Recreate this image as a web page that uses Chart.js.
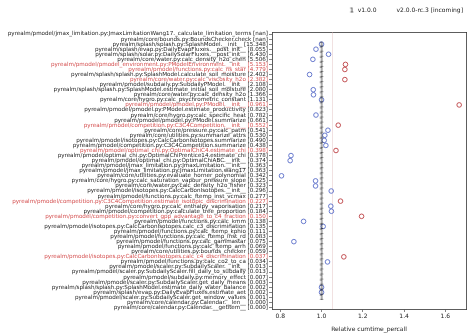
<!DOCTYPE html>
<html>
<head>
<meta charset="utf-8">
<script src="https://cdn.jsdelivr.net/npm/chart.js@4/dist/chart.umd.min.js"></script>
<style>
  html, body { margin: 0; padding: 0; background: #fff; }
  #wrap { width: 474px; height: 335px; }
</style>
</head>
<body>
<div id="wrap"><canvas id="chart" width="474" height="335"></canvas></div>
<script>
// ============================================
// DATA
// ============================================

const FUNCTIONS = [
    "pyrealm/pmodel/jmax_limitation.py:JmaxLimitationWang17._calculate_limitation_terms",
    "pyrealm/core/bounds.py:BoundsChecker.check",
    "pyrealm/splash/splash.py:SplashModel.__init__",
    "pyrealm/splash/evap.py:DailyEvapFluxes.__post_init__",
    "pyrealm/splash/solar.py:DailySolarFluxes.__post_init__",
    "pyrealm/core/water.py:calc_density_h2o_chen",
    "pyrealm/pmodel/pmodel_environment.py:PModelEnvironment.__init__",
    "pyrealm/pmodel/functions.py:calc_ns_star",
    "pyrealm/splash/splash.py:SplashModel.calculate_soil_moisture",
    "pyrealm/core/water.py:calc_viscosity_h2o",
    "pyrealm/pmodel/subdaily.py:SubdailyPModel.__init__",
    "pyrealm/splash/splash.py:SplashModel.estimate_initial_soil_moisture",
    "pyrealm/core/water.py:calc_density_h2o",
    "pyrealm/core/hygro.py:calc_psychrometric_constant",
    "pyrealm/pmodel/pmodel.py:PModel.__init__",
    "pyrealm/pmodel/pmodel.py:PModel.estimate_productivity",
    "pyrealm/core/hygro.py:calc_specific_heat",
    "pyrealm/pmodel/pmodel.py:PModel.summarize",
    "pyrealm/pmodel/competition.py:C3C4Competition.__init__",
    "pyrealm/core/pressure.py:calc_patm",
    "pyrealm/core/utilities.py:summarize_attrs",
    "pyrealm/pmodel/isotopes.py:CalcCarbonIsotopes.summarize",
    "pyrealm/pmodel/competition.py:C3C4Competition.summarize",
    "pyrealm/pmodel/optimal_chi.py:OptimalChiC4.estimate_chi",
    "pyrealm/pmodel/optimal_chi.py:OptimalChiPrentice14.estimate_chi",
    "pyrealm/pmodel/optimal_chi.py:OptimalChiABC.__init__",
    "pyrealm/pmodel/jmax_limitation.py:JmaxLimitation.__init__",
    "pyrealm/pmodel/jmax_limitation.py:JmaxLimitation.wang17",
    "pyrealm/core/utilities.py:evaluate_horner_polynomial",
    "pyrealm/core/hygro.py:calc_saturation_vapour_pressure_slope",
    "pyrealm/core/water.py:calc_density_h2o_fisher",
    "pyrealm/pmodel/isotopes.py:CalcCarbonIsotopes.__init__",
    "pyrealm/pmodel/functions.py:calc_ftemp_inst_vcmax",
    "pyrealm/pmodel/competition.py:C3C4Competition.estimate_isotopic_discrimination",
    "pyrealm/core/hygro.py:calc_enthalpy_vaporisation",
    "pyrealm/pmodel/competition.py:calculate_tree_proportion",
    "pyrealm/pmodel/competition.py:convert_gpp_advantage_to_c4_fraction",
    "pyrealm/pmodel/functions.py:calc_kmm",
    "pyrealm/pmodel/isotopes.py:CalcCarbonIsotopes.calc_c3_discrimination",
    "pyrealm/pmodel/functions.py:calc_ftemp_kphio",
    "pyrealm/pmodel/functions.py:calc_ftemp_inst_rd",
    "pyrealm/pmodel/functions.py:calc_gammastar",
    "pyrealm/pmodel/functions.py:calc_ftemp_arrh",
    "pyrealm/core/utilities.py:bounds_checker",
    "pyrealm/pmodel/isotopes.py:CalcCarbonIsotopes.calc_c4_discrimination",
    "pyrealm/pmodel/functions.py:calc_co2_to_ca",
    "pyrealm/pmodel/scaler.py:SubdailyScaler.__init__",
    "pyrealm/pmodel/scaler.py:SubdailyScaler.fill_daily_to_subdaily",
    "pyrealm/pmodel/subdaily.py:memory_effect",
    "pyrealm/pmodel/scaler.py:SubdailyScaler.get_daily_means",
    "pyrealm/splash/splash.py:SplashModel.estimate_daily_water_balance",
    "pyrealm/splash/evap.py:DailyEvapFluxes.estimate_aet",
    "pyrealm/pmodel/scaler.py:SubdailyScaler.get_window_values",
    "pyrealm/core/calendar.py:Calendar.__len__",
    "pyrealm/core/calendar.py:Calendar.__getitem__",
];

// cumtime_percall shown in brackets next to each function
const CUMTIME = [
    "nan", "nan", "15.348", "8.055", "6.430", "5.506", "5.153", "4.779",
    "2.402", "2.382", "2.108", "2.080", "1.366", "1.131", "0.961", "0.823",
    "0.782", "0.661", "0.552", "0.541", "0.530", "0.490", "0.438", "0.398",
    "0.378", "0.374", "0.363", "0.363", "0.342", "0.325", "0.323", "0.296",
    "0.277", "0.227", "0.217", "0.184", "0.150", "0.138", "0.135", "0.111",
    "0.083", "0.075", "0.069", "0.059", "0.037", "0.034", "0.013", "0.013",
    "0.007", "0.003", "0.002", "0.002", "0.001", "0.000", "0.000",
];

// reference version (always 1 where defined)
const BASELINE = [
    null, null, 1, 1, 1, 1, 1, 1, 1, 1, 1, 1, 1, 1, 1, 1, 1, 1, 1, 1,
    1, 1, 1, 1, 1, 1, 1, 1, 1, 1, 1, 1, 1, 1, 1, 1, 1, 1, 1, 1,
    1, 1, 1, 1, 1, 1, 1, 1, 1, 1, 1, 1, 1, null, null,
];

// incoming version, relative to baseline
const INCOMING = [
    null, null, 1.000, 0.973, 1.034, 0.958, 1.116, 1.113, 0.942, 1.113,
    null, 0.960, 0.961, 1.000, 1.667, null, 0.973, null, 1.081, 1.031,
    1.016, 1.013, 1.021, 1.070, 0.852, 0.848, null, null, 0.806, 0.971,
    0.971, 1.047, null, 1.092, 1.045, 1.048, 1.194, 0.913, 1.008, null,
    null, 0.866, null, null, 1.108, 1.029, null, null, null, null,
    1.000, 1.000, null, null, null,
];

const SERIES_NAMES = ["v1.0.0", "v2.0.0-rc.3 [incoming]"];
const X_TICKS = [0.8, 1.0, 1.2, 1.4, 1.6];
const THRESHOLD = 1.05;

// ============================================
// STYLE
// ============================================

const FONT = "DejaVu Sans";
const BLUE = "rgb(88, 108, 200)";
const RED = "rgb(188, 62, 66)";
const TEXT_RED = "rgb(212, 78, 78)";
const INK = "#1a1a1a";

const isSlower = (i) => INCOMING[i] != null && INCOMING[i] > THRESHOLD;

const toPoints = (values) =>
    values
        .map((v, i) => ({ x: v, y: i }))
        .filter((p) => p.x != null);

// "1" text marker used for the baseline series
const oneMarker = document.createElement("canvas");
oneMarker.width = 6;
oneMarker.height = 7;
(() => {
    const c = oneMarker.getContext("2d");
    c.fillStyle = "#000";
    c.font = `7px ${FONT}`;
    c.textAlign = "center";
    c.textBaseline = "alphabetic";
    c.fillText("1", 3, 6);
})();

// ============================================
// PLUGINS
// ============================================

const thresholdLine = {
    id: "thresholdLine",
    beforeDatasetsDraw(chart) {
        const { ctx, chartArea, scales } = chart;
        const x = Math.round(scales.x.getPixelForValue(THRESHOLD)) + 0.5;
        ctx.save();
        ctx.strokeStyle = "rgba(220, 180, 180, 0.4)";
        ctx.lineWidth = 1;
        ctx.beginPath();
        ctx.moveTo(x, chartArea.top);
        ctx.lineTo(x, chartArea.bottom);
        ctx.stroke();
        ctx.restore();
    },
};

// ============================================
// CHART
// ============================================

Chart.defaults.font.family = FONT;
Chart.defaults.color = INK;

const spine = { display: true, color: "#333", width: 0.8 };

new Chart(document.getElementById("chart"), {
    type: "scatter",
    data: {
        datasets: [
            {
                label: SERIES_NAMES[0],
                data: toPoints(BASELINE),
                pointStyle: oneMarker,
                pointRadius: 3,
            },
            {
                label: SERIES_NAMES[1],
                data: toPoints(INCOMING),
                pointStyle: "circle",
                pointRadius: 2.3,
                pointBorderWidth: 0.9,
                pointBackgroundColor: "rgba(0,0,0,0)",
                pointBorderColor: (ctx) =>
                    ctx.raw && ctx.raw.x > THRESHOLD ? RED : BLUE,
            },
        ],
    },
    options: {
        responsive: false,
        animation: false,
        events: [],
        layout: { padding: { left: 2, right: 0, top: -4, bottom: 2 } },
        plugins: {
            tooltip: { enabled: false },
            legend: {
                position: "top",
                align: "end",
                labels: {
                    usePointStyle: true,
                    padding: 11,
                    font: { size: 6 },
                    color: INK,
                    generateLabels(chart) {
                        const items =
                            Chart.defaults.plugins.legend.labels.generateLabels(chart);
                        items[1].fillStyle = "rgba(0,0,0,0)";
                        items[1].strokeStyle = "rgba(0,0,0,0)";
                        return items;
                    },
                },
            },
        },
        scales: {
            x: {
                type: "linear",
                position: "bottom",
                min: 0.76,
                max: 1.7,
                afterBuildTicks: (scale) => {
                    scale.ticks = X_TICKS.map((v) => ({ value: v }));
                },
                afterFit: (scale) => {
                    scale.height = 24;
                },
                ticks: {
                    font: { size: 6 },
                    color: INK,
                    padding: 1,
                    callback: (v) => v.toFixed(1),
                },
                grid: {
                    drawOnChartArea: false,
                    tickLength: 3,
                    color: "#333",
                    lineWidth: 0.6,
                },
                border: spine,
                title: {
                    display: true,
                    text: "Relative cumtime_percall",
                    font: { size: 6 },
                    color: INK,
                    padding: { top: 1, bottom: 0 },
                },
            },
            xTop: {
                type: "linear",
                position: "top",
                min: 0.76,
                max: 1.7,
                ticks: { display: false },
                grid: { display: false },
                border: spine,
                afterFit: (scale) => {
                    scale.height = 9;
                },
            },
            y: {
                type: "linear",
                position: "left",
                reverse: true,
                min: -0.4,
                max: 54.3,
                afterBuildTicks: (scale) => {
                    scale.ticks = FUNCTIONS.map((_, i) => ({ value: i }));
                },
                afterFit: (scale) => {
                    scale.width = 270;
                },
                ticks: {
                    autoSkip: false,
                    font: { size: 5.6 },
                    padding: 1,
                    color: (ctx) => (isSlower(ctx.tick.value) ? TEXT_RED : INK),
                    callback: (v) => `${FUNCTIONS[v]} [${CUMTIME[v]}]`,
                },
                grid: {
                    drawOnChartArea: false,
                    tickLength: 3,
                    color: "#333",
                    lineWidth: 0.6,
                },
                border: spine,
            },
            yRight: {
                type: "linear",
                position: "right",
                min: -0.4,
                max: 54.3,
                ticks: { display: false },
                grid: { display: false },
                border: spine,
                afterFit: (scale) => {
                    scale.width = 8;
                },
            },
        },
    },
    plugins: [thresholdLine],
});
</script>
</body>
</html>
